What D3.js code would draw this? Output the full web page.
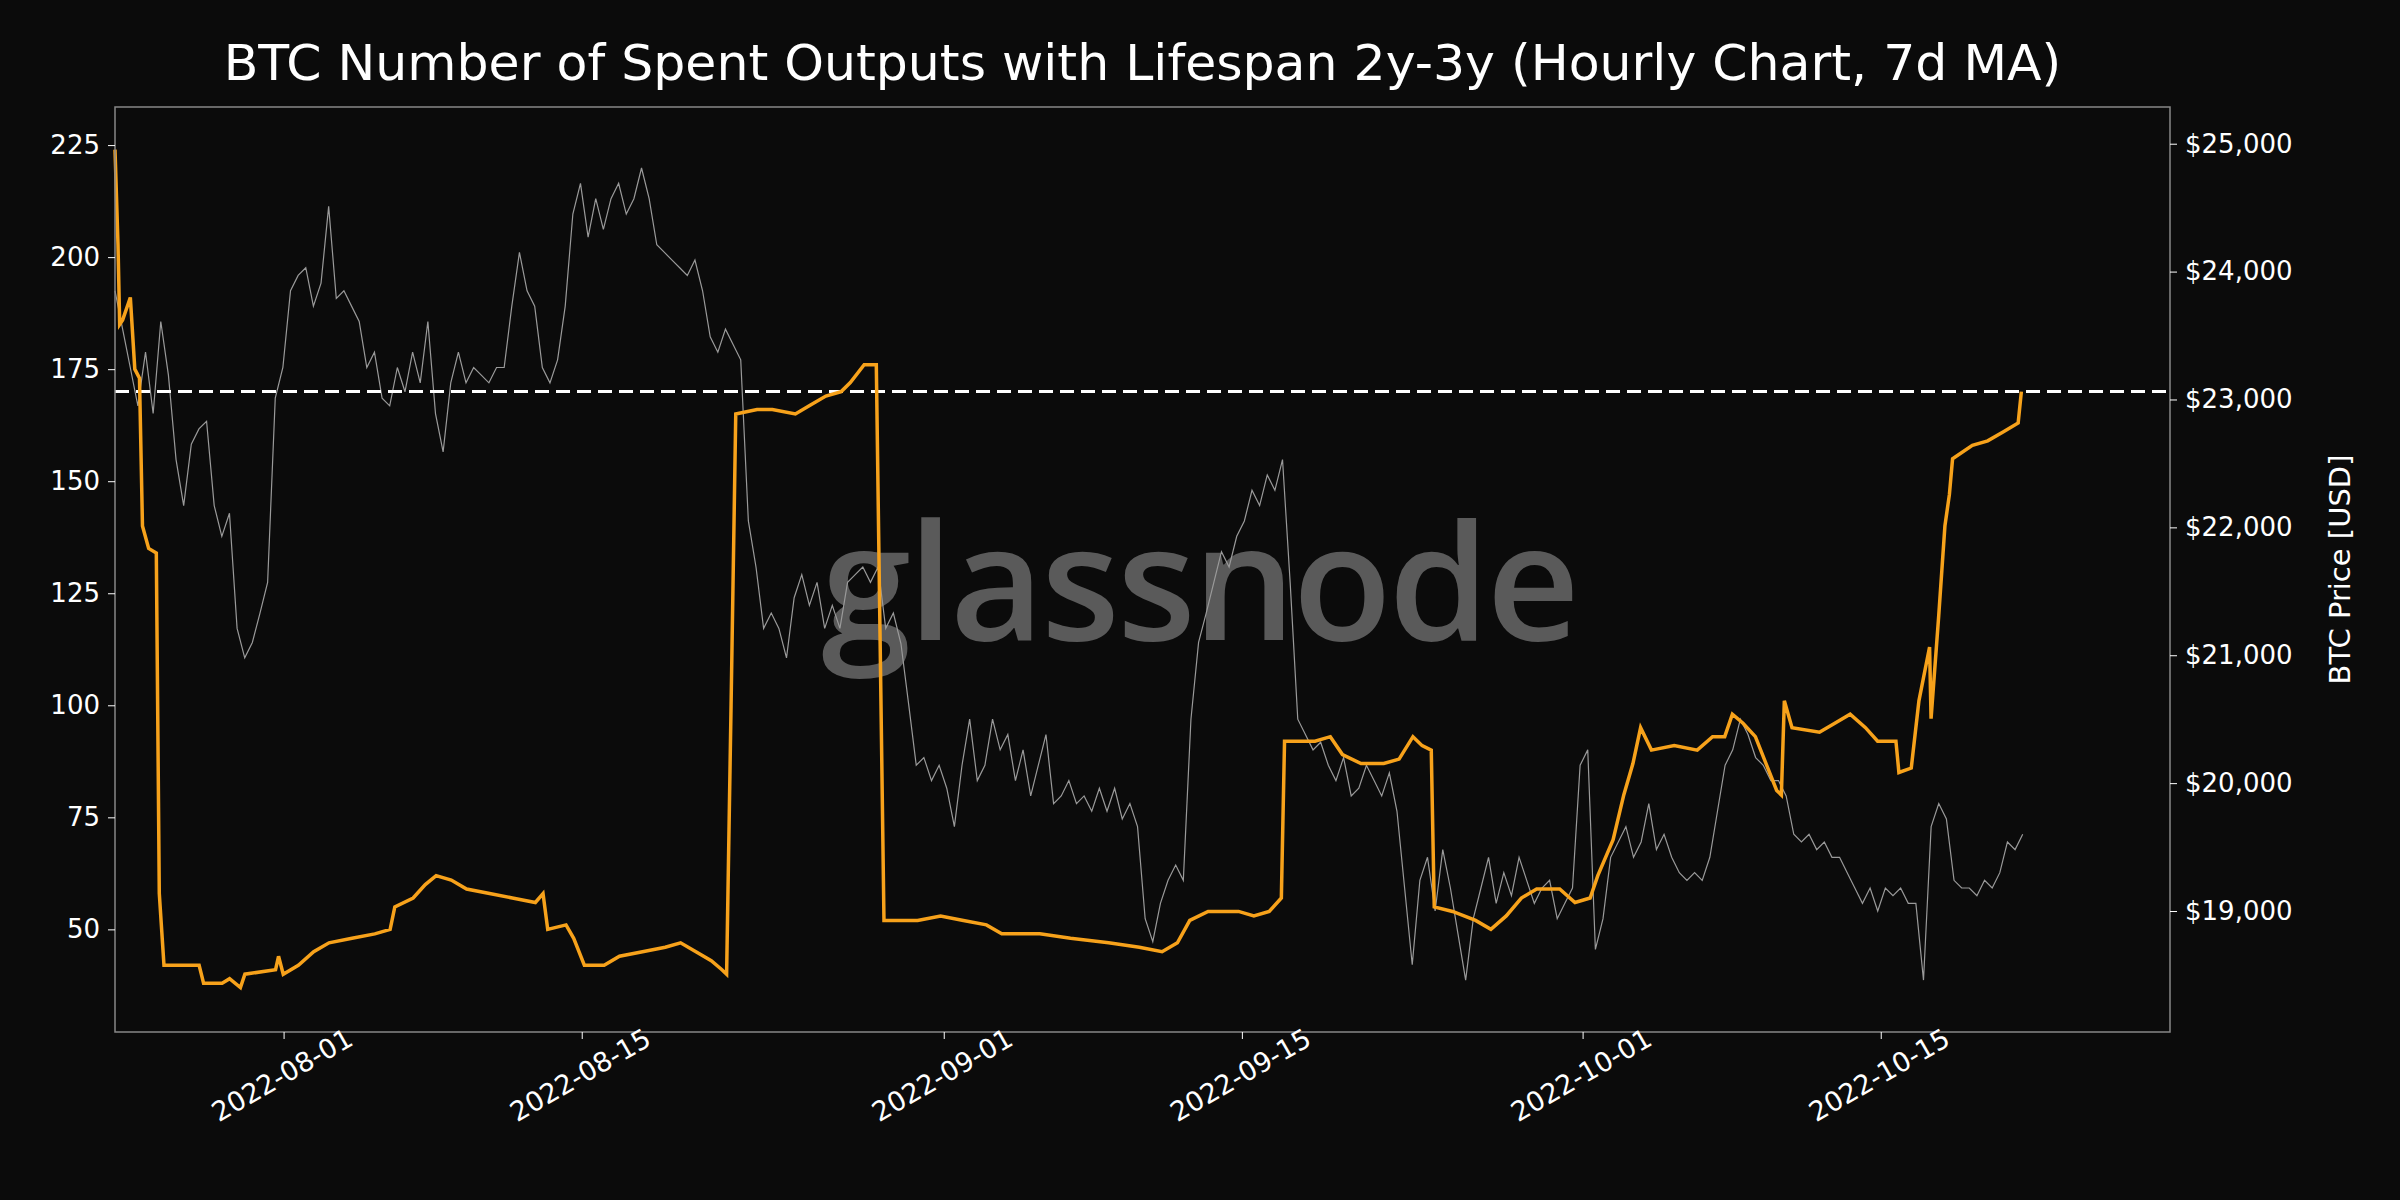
<!DOCTYPE html>
<html><head><meta charset="utf-8">
<script src="https://cdn.jsdelivr.net/npm/d3@7"></script>
<style>body{margin:0;background:#0b0b0b;}</style></head>
<body><svg id="c" width="2400" height="1200"></svg>
<script>
const title = "BTC Number of Spent Outputs with Lifespan 2y-3y (Hourly Chart, 7d MA)";
const seriesStart = "2022-07-24T02:00:00";
// orange: [day offset from start, value]
const outDays = [0,0.14,0.22,0.36,0.72,0.93,1.15,1.29,1.58,1.94,2.08,2.30,3.95,4.16,5.03,5.38,5.89,6.10,7.54,7.68,7.90,8.61,9.33,10.05,11.13,12.20,12.92,13.14,14.0,14.57,15.08,15.79,16.51,17.59,18.66,19.74,20.1,20.32,21.18,21.54,22.04,22.97,23.69,24.77,25.84,26.56,27.28,28.0,28.5,28.72,28.93,29.15,30.15,30.87,31.95,32.66,33.38,34.1,34.53,35.18,35.53,35.75,36.11,37.69,38.77,39.84,40.92,41.64,43.43,44.87,46.66,48.1,49.17,49.89,50.47,51.33,52.76,53.48,54.2,54.77,54.92,56.35,57.07,57.64,58.51,59.58,60.3,60.95,61.38,61.81,61.95,62.81,63.89,64.61,65.33,66.04,66.76,67.84,68.56,69.27,69.63,70.35,70.85,71.28,71.64,72.15,73.22,74.3,75.02,75.59,75.95,76.45,77.03,77.53,78.03,78.25,78.39,78.75,80.04,80.76,81.48,82.2,82.77,83.63,83.77,84.35,84.71,85.21,85.28,85.64,85.93,86.14,86.29,87.22,87.94,88.66,89.37,89.52];
const outVals = [224,203,185,186,191,175,173,140,135,134,58,42,42,38,38,39,37,40,41,44,40,42,45,47,48,49,50,55,57,60,62,61,59,58,57,56,58,50,51,48,42,42,44,45,46,47,45,43,41,40,100,165,166,166,165,167,169,170,172,176,176,176,52,52,53,52,51,49,49,48,47,46,45,47,52,54,54,53,54,57,92,92,93,89,87,87,88,93,91,90,55,54,52,50,53,57,59,59,56,57,62,70,80,87,95,90,91,90,93,93,98,96,93,87,81,80,101,95,94,96,98,95,92,92,85,86,101,113,97,120,140,147,155,158,159,161,163,170];
// price sampled every 8.6 h from seriesStart
const priceStepHours = 8.6;
const priceVals = [23850,23550,23250,22950,23370,22890,23610,23190,22530,22170,22650,22770,22830,22170,21930,22110,21210,20980,21100,21330,21570,23010,23250,23850,23970,24030,23730,23910,24510,23790,23850,23730,23610,23250,23370,23010,22950,23250,23060,23370,23130,23610,22890,22590,23130,23370,23130,23250,23190,23130,23250,23250,23730,24150,23850,23730,23250,23130,23310,23730,24450,24690,24270,24570,24330,24570,24690,24450,24570,24810,24570,24210,24150,24090,24030,23970,24090,23850,23490,23370,23550,23430,23310,22050,21690,21210,21330,21210,20980,21450,21630,21390,21570,21210,21390,21210,21570,21630,21690,21570,21690,21210,21330,21090,20620,20140,20200,20020,20140,19960,19660,20140,20500,20020,20140,20500,20260,20380,20020,20260,19900,20140,20380,19840,19900,20020,19840,19900,19780,19960,19780,19960,19720,19840,19660,18940,18760,19060,19240,19360,19240,20500,21100,21330,21570,21810,21690,21930,22050,22290,22170,22410,22290,22530,21570,20500,20380,20260,20320,20140,20020,20200,19900,19960,20140,20020,19900,20080,19780,19180,18580,19240,19420,19000,19480,19180,18820,18460,18940,19180,19420,19060,19300,19120,19420,19240,19060,19180,19240,18940,19060,19180,20140,20260,18700,18940,19420,19540,19660,19420,19540,19840,19480,19600,19420,19300,19240,19300,19240,19420,19780,20140,20260,20500,20380,20200,20140,20020,20020,19900,19600,19540,19600,19480,19540,19420,19420,19300,19180,19060,19180,19000,19180,19120,19180,19060,19060,18460,19660,19840,19720,19240,19180,19180,19120,19240,19180,19300,19540,19480,19600];
const refLine = 170;
const leftTicks = [50,75,100,125,150,175,200,225];
const rightTicks = [19000,20000,21000,22000,23000,24000,25000];
const xTicks = ["2022-08-01","2022-08-15","2022-09-01","2022-09-15","2022-10-01","2022-10-15"];
const xDomain = ["2022-07-24T02:00:00","2022-10-28T14:00:00"];

const W=2400,H=1200,L=115,R=2170,T=107,B=1032;
const svg=d3.select("#c");
svg.append("rect").attr("width",W).attr("height",H).attr("fill","#0b0b0b");
const start=new Date(seriesStart);
const x=d3.scaleTime().domain(xDomain.map(d=>new Date(d))).range([L,R]);
const yL=d3.scaleLinear().domain([27.1,233.5]).range([B,T]);
const yR=d3.scaleLinear().domain([18054,25287]).range([B,T]);
const F="DejaVu Sans";
svg.append("text").attr("x",(L+R)/2).attr("y",80).attr("text-anchor","middle").attr("fill","#fff").attr("font-family",F).attr("font-size",50.5).text(title);
svg.append("text").attr("x",1199).attr("y",640).attr("text-anchor","middle").attr("fill","#5a5a5a").attr("font-family","Open Sans, DejaVu Sans").attr("font-weight",600).attr("font-size",162).attr("letter-spacing",-3).text("glassnode");
const day=86400000;
const priceData=priceVals.map((v,i)=>[new Date(+start+i*priceStepHours*3600000),v]);
svg.append("path").datum(priceData).attr("fill","none").attr("stroke","#9a9a9a").attr("stroke-width",1.2)
 .attr("d",d3.line().x(d=>x(d[0])).y(d=>yR(d[1])));
svg.append("line").attr("x1",L).attr("x2",R).attr("y1",yL(refLine)).attr("y2",yL(refLine)).attr("stroke","#fff").attr("stroke-width",3).attr("stroke-dasharray","14,7");
const outData=outDays.map((d,i)=>[new Date(+start+d*day),outVals[i]]);
svg.append("path").datum(outData).attr("fill","none").attr("stroke","#f7a21b").attr("stroke-width",3.5)
 .attr("d",d3.line().x(d=>x(d[0])).y(d=>yL(d[1])));
svg.append("rect").attr("x",L).attr("y",T).attr("width",R-L).attr("height",B-T).attr("fill","none").attr("stroke","#888").attr("stroke-width",1.5);
const ax=(g)=>{g.selectAll("path").remove();g.selectAll("line").attr("stroke","#fff");g.selectAll("text").attr("fill","#fff").attr("font-family",F).attr("font-size",26);};
svg.append("g").attr("transform",`translate(${L},0)`).call(d3.axisLeft(yL).tickValues(leftTicks).tickSize(7).tickPadding(8)).call(ax);
svg.append("g").attr("transform",`translate(${R},0)`).call(d3.axisRight(yR).tickValues(rightTicks).tickSize(7).tickPadding(8).tickFormat(d=>"$"+d3.format(",")(d))).call(ax);
const gx=svg.append("g").attr("transform",`translate(0,${B})`).call(d3.axisBottom(x).tickValues(xTicks.map(d=>new Date(d+"T00:00:00"))).tickSize(7).tickFormat(d3.timeFormat("%Y-%m-%d"))).call(ax);
gx.selectAll("text").attr("font-size",27).attr("text-anchor","middle").attr("dy","0.35em").attr("y",0).attr("transform","translate(-2,43) rotate(-30)");
svg.append("text").attr("transform",`translate(2350,${(T+B)/2}) rotate(-90)`).attr("text-anchor","middle").attr("fill","#fff").attr("font-family",F).attr("font-size",29).text("BTC Price [USD]");
</script></body></html>
